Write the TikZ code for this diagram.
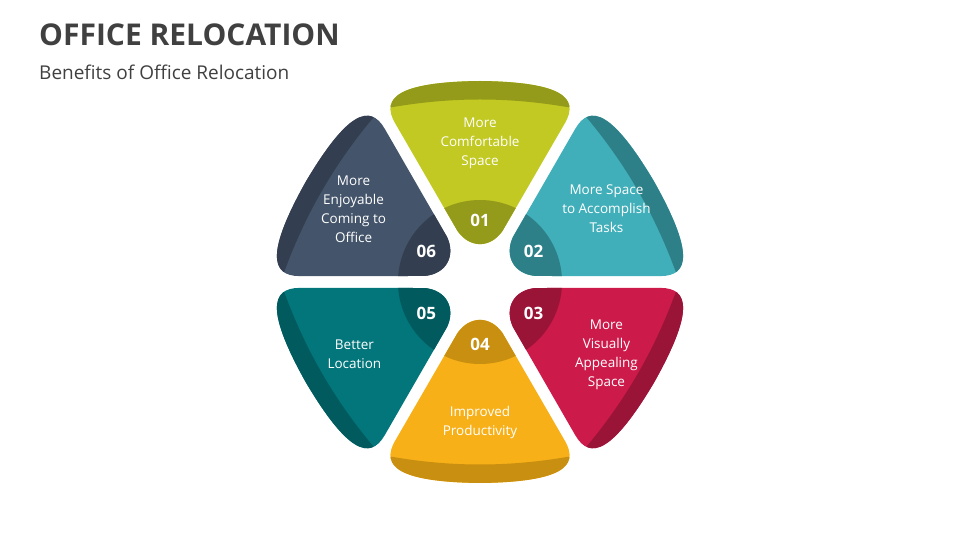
\documentclass[tikz,border=0pt]{standalone}
\usepackage{fontspec}
\setmainfont{Open Sans}
\definecolor{cA}{HTML}{C1C922}\definecolor{dA}{HTML}{949A1A}
\definecolor{cB}{HTML}{41AFB9}\definecolor{dB}{HTML}{2E8088}
\definecolor{cC}{HTML}{CC1A4A}\definecolor{dC}{HTML}{9A1438}
\definecolor{cD}{HTML}{F7B018}\definecolor{dD}{HTML}{C98F10}
\definecolor{cE}{HTML}{02767A}\definecolor{dE}{HTML}{015A5D}
\definecolor{cF}{HTML}{44546A}\definecolor{dF}{HTML}{333F50}
\definecolor{ttl}{HTML}{404040}
\tikzset{
  lbl/.style={text=white,align=center,font=\fontsize{13.5}{19}\selectfont},
  num/.style={text=white,font=\fontsize{17}{20}\selectfont\bfseries},
}
\newcommand{\petalpath}{(-22.5,51) .. controls (-10.1,33.5) and (10.1,33.5) .. (22.5,51) -- (85,159) .. controls (100,185) and (80,200) .. (0,201) .. controls (-80,200) and (-100,185) .. (-85,159) -- cycle}
\newcommand{\petal}[3]{%
  \begin{scope}[rotate=#1-90]
    \fill[#2] \petalpath;
    \begin{scope}
      \clip \petalpath;
      \fill[#3] (-130,166) .. controls (-40,188) and (40,188) .. (130,166) -- (130,260) -- (-130,260) -- cycle;
      \fill[#3] (0,0) circle (82);
    \end{scope}
  \end{scope}}
\begin{document}
\begin{tikzpicture}[x=1pt,y=1pt]
\useasboundingbox (-480,-258) rectangle (480,282);
\node[anchor=base west,inner sep=0,text=ttl,font=\fontsize{30}{34}\selectfont\bfseries] (title) at (-441,236) {OFFICE RELOCATION};
\node[anchor=base west,inner sep=0,text=ttl,font=\fontsize{19}{24}\selectfont] (sub) at (-441,202) {Benefits of Office Relocation};
\petal{90}{cA}{dA}
\petal{30}{cB}{dB}
\petal{-30}{cC}{dC}
\petal{-90}{cD}{dD}
\petal{-150}{cE}{dE}
\petal{150}{cF}{dF}
\node[num] (n1) at (90:62) {01};
\node[num] (n2) at (30:62) {02};
\node[num] (n3) at (-30:62) {03};
\node[num] (n4) at (-90:62) {04};
\node[num] (n5) at (-150:62) {05};
\node[num] (n6) at (150:62) {06};
\node[lbl] (t1) at (90:139) {More\\Comfortable\\Space};
\node[lbl] (t2) at (30:146) {More Space\\to Accomplish\\Tasks};
\node[lbl] (t3) at (-30:146) {More\\Visually\\Appealing\\Space};
\node[lbl] (t4) at (-90:140) {Improved\\Productivity};
\node[lbl] (t5) at (-150:145) {Better\\Location};
\node[lbl] (t6) at (150:146) {More\\Enjoyable\\Coming to\\Office};
\end{tikzpicture}
\end{document}
